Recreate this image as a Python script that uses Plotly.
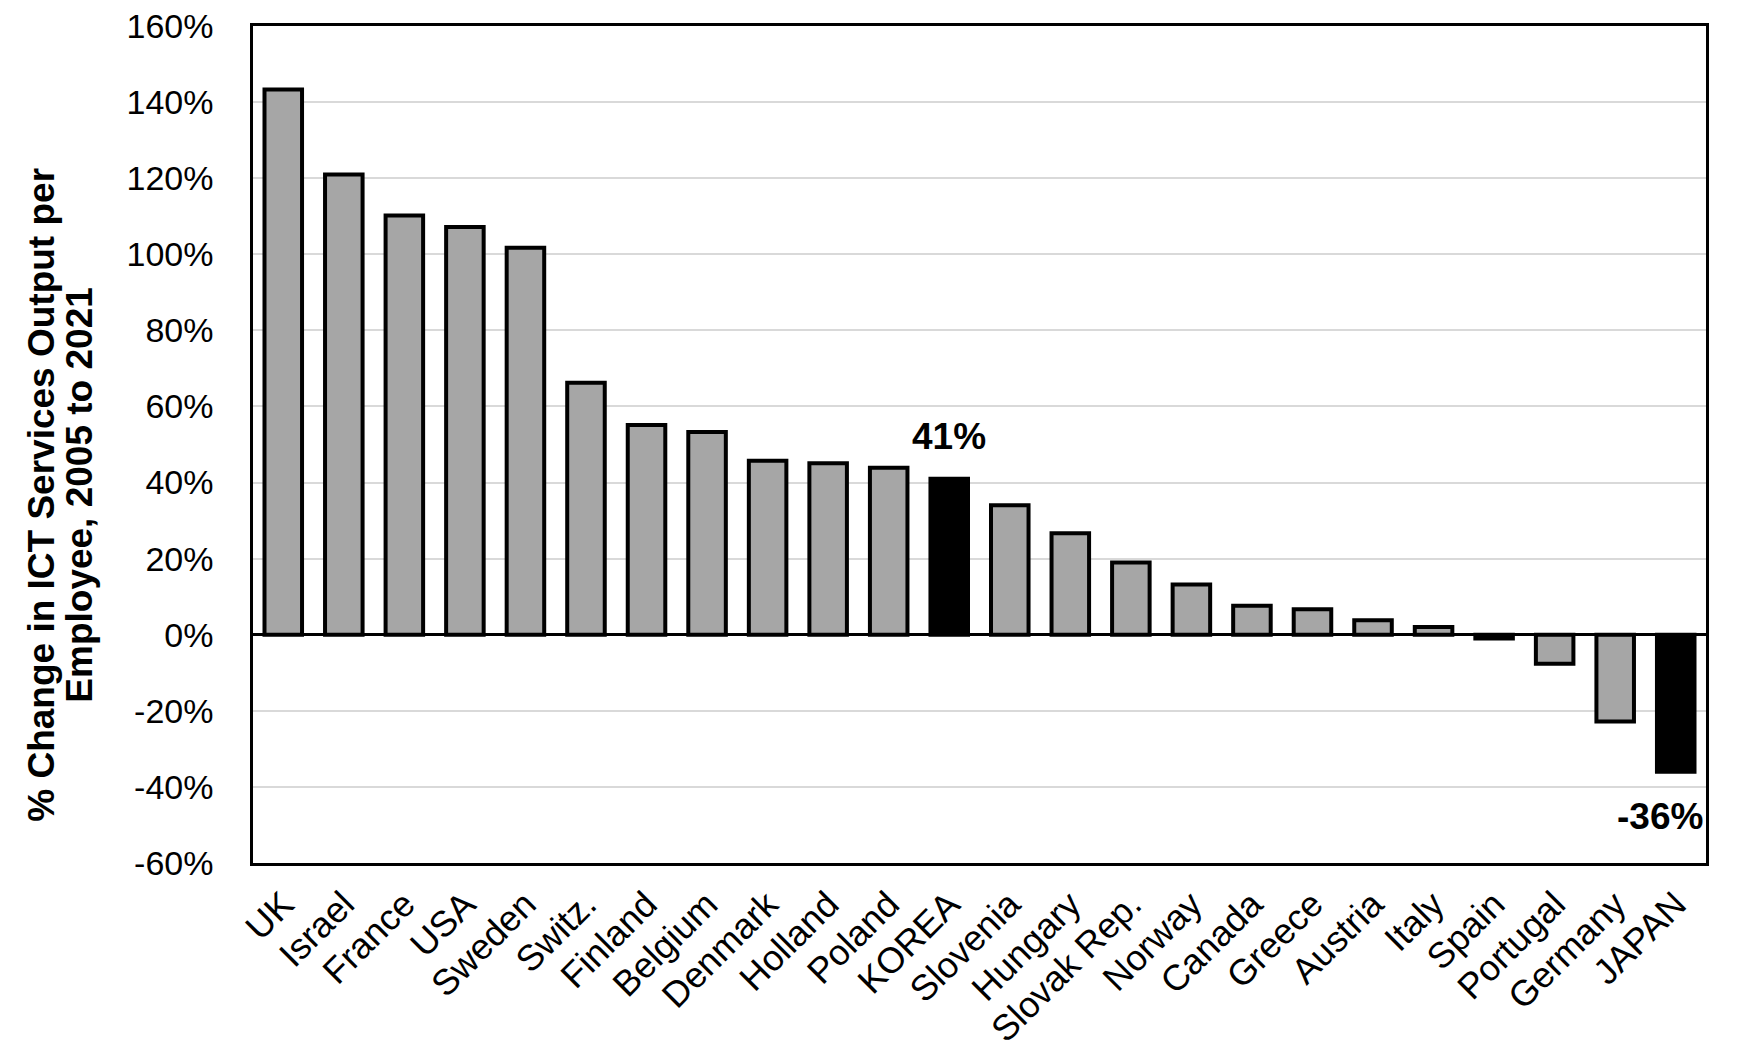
import plotly.graph_objects as go

countries = ["UK", "Israel", "France", "USA", "Sweden", "Switz.", "Finland", "Belgium",
             "Denmark", "Holland", "Poland", "KOREA", "Slovenia", "Hungary", "Slovak Rep.",
             "Norway", "Canada", "Greece", "Austria", "Italy", "Spain", "Portugal",
             "Germany", "JAPAN"]
values = [143.3, 121.0, 110.2, 107.2, 101.7, 66.2, 55.1, 53.3,
          45.7, 45.1, 43.9, 41.0, 34.0, 26.7, 19.0,
          13.2, 7.6, 6.7, 3.8, 2.0, -1.0, -7.6,
          -22.8, -36.0]
highlight = ["KOREA", "JAPAN"]
y_ticks = [-60, -40, -20, 0, 20, 40, 60, 80, 100, 120, 140, 160]
y_tick_labels = [f"{t}%" for t in y_ticks]
y_title_lines = ["% Change in ICT Services Output per", "Employee, 2005 to 2021"]

FONT = "Liberation Sans, Arial, sans-serif"
colors = ["#000000" if c in highlight else "#a6a6a6" for c in countries]

fig = go.Figure()
fig.add_trace(go.Bar(
    x=countries, y=values,
    marker=dict(color=colors, line=dict(color="#000000", width=4)),
    hoverinfo="x+y",
))

for c in highlight:
    v = values[countries.index(c)]
    if v >= 0:
        fig.add_annotation(x=c, y=v, text=f"<b>{round(v)}%</b>", showarrow=False,
                           yanchor="bottom", yshift=20,
                           font=dict(family=FONT, size=37, color="#000000"))
    else:
        fig.add_annotation(x=c, y=v, text=f"<b>{round(v)}%</b>", showarrow=False,
                           yanchor="top", yshift=-22, xshift=-16,
                           font=dict(family=FONT, size=37, color="#000000"))

# y-axis title: two rotated lines, placed lower than the axis centre as in the reference
for line, xpos in zip(y_title_lines, [-0.1452, -0.1191]):
    fig.add_annotation(xref="paper", yref="paper", x=xpos, y=0.44, text=f"<b>{line}</b>",
                       textangle=-90, showarrow=False, xanchor="center", yanchor="middle",
                       font=dict(family=FONT, size=37, color="#000000"))

fig.update_layout(
    width=1740, height=1053,
    margin=dict(l=245, r=42, t=18, b=198, autoexpand=False),
    paper_bgcolor="white", plot_bgcolor="white",
    bargap=0.38,
    showlegend=False,
    font=dict(family=FONT, size=34, color="#000000"),
)
fig.update_xaxes(
    tickangle=-45, showgrid=False, showline=True, linecolor="#000000", linewidth=2.5,
    mirror=True, ticks="", ticklabelstandoff=3, ticklabeloverflow="allow",
    tickfont=dict(family=FONT, size=36, color="#000000"),
)
fig.update_yaxes(
    range=[-60, 160], tickvals=y_ticks, ticktext=y_tick_labels,
    showgrid=True, gridcolor="#d9d9d9", gridwidth=2,
    zeroline=True, zerolinecolor="#000000", zerolinewidth=2.5,
    showline=True, linecolor="#000000", linewidth=2.5, mirror=True,
    ticks="", ticklabelstandoff=30, ticklabeloverflow="allow",
    tickfont=dict(family=FONT, size=34, color="#000000"),
)

fig.write_html("out.html")
